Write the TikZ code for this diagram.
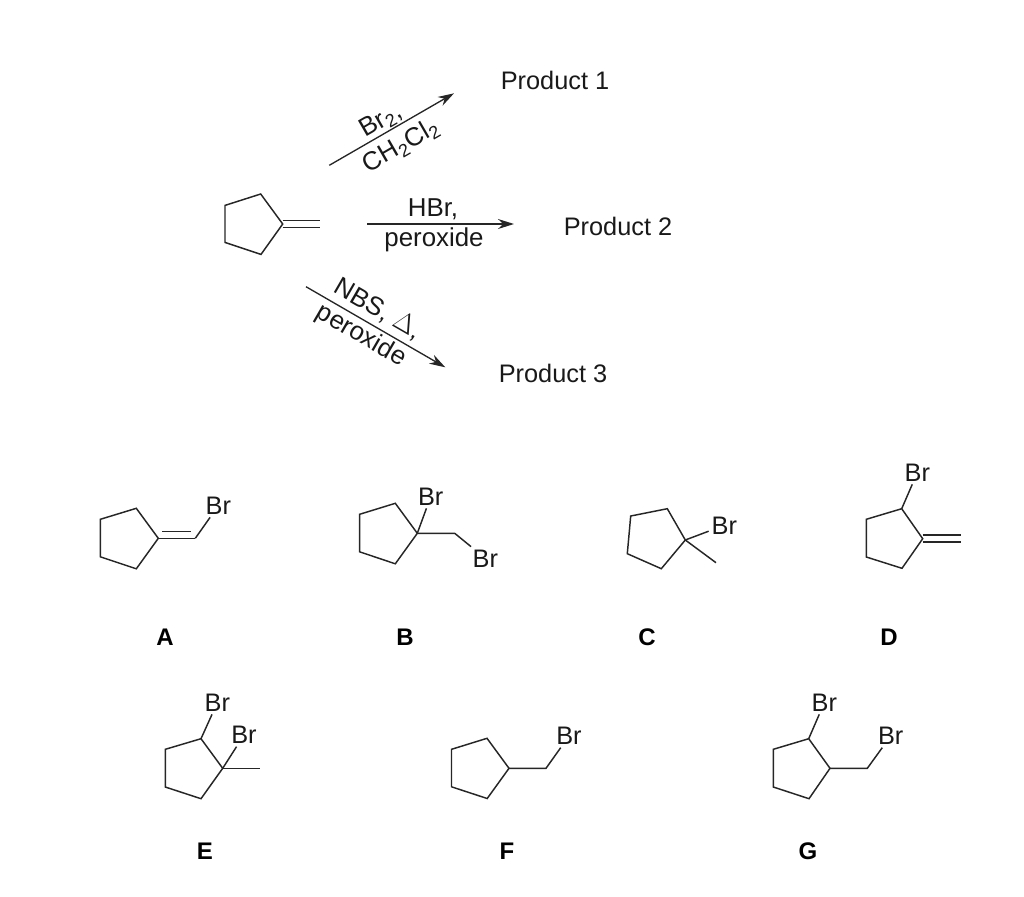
\documentclass[tikz,border=0pt]{standalone}
\usepackage{fontspec}
\setmainfont{Liberation Sans}
\usetikzlibrary{positioning,calc,arrows.meta}
\tikzset{
  bond/.style={line width=1.1pt,draw=black!85},
  rxn/.style={line width=1pt,draw=black!85,-{Stealth[length=12pt,width=7.5pt]}},
  atom/.style={inner sep=2pt,font=\fontsize{19}{20}\selectfont,text=black!90},
  cond/.style={inner sep=0pt,font=\fontsize{19.4}{20}\selectfont,text=black!90},
  prod/.style={inner sep=0pt,font=\fontsize{19}{22}\selectfont,text=black!90},
  tag/.style={inner sep=0pt,font=\fontsize{18}{20}\selectfont\bfseries}
}
\begin{document}
\begin{tikzpicture}[x=0.75pt,y=-0.75pt]
    \useasboundingbox (0,0) rectangle (1024,896);
    % starting material
    \coordinate (S) at (282.7,224);
    \draw[bond] (S) -- ++(-22,-30) -- ++(-35.7,11.4) -- ++(0,37) -- ++(36,12) -- cycle;
    \draw[bond] ($(S)+(0,-3.5)$) -- ++(37,0);
    \draw[bond] ($(S)+(0,3.5)$) -- ++(37,0);
    % reactions
    \coordinate (R1a) at (329.3,165.3);
    \coordinate (R1b) at (454,93.3);
    \coordinate (R2a) at (367,224);
    \coordinate (R2b) at (514,224);
    \coordinate (R3a) at (306,286.7);
    \coordinate (R3b) at (445.3,367.3);
    \draw[rxn] (R1a) -- (R1b);
    \draw[rxn] (R2a) -- (R2b);
    \draw[rxn] (R3a) -- (R3b);
    \node[cond,rotate=30] at (381,121) (C1) {Br\textsubscript{2},};
    \node[cond,rotate=30] at (401,146) (C2) {CH\textsubscript{2}Cl\textsubscript{2}};
    \node[cond] at (433,209) (C3) {HBr,};
    \node[cond] at (434,240) (C4) {peroxide};
    \node[cond,rotate=-30] at (378,309) (C5) {NBS, $\Delta$,};
    \node[cond,rotate=-30] at (361,336) (C6) {peroxide};
    \node[prod] at (555,80) (P1) {Product 1};
    \node[prod] at (618,226) (P2) {Product 2};
    \node[prod] at (553,373) (P3) {Product 3};
    % A
    \coordinate (A) at (158.3,538.3);
    \coordinate (A1) at (195.3,538.3);
    \node[atom] at (218.3,505.7) (BrA) {Br};
    \draw[bond] (A) -- ++(-22,-30) -- ++(-36,11) -- ++(0,37.5) -- ++(36,12) -- cycle;
    \draw[bond] (A) -- (A1);
    \draw[bond] (162,531.3) -- (191.3,531.3);
    \draw[bond] (A1) -- (BrA);
    \node[tag] at (165,637) (LA) {A};
    % B
    \coordinate (B) at (417.3,533.3);
    \coordinate (B1) at (454.7,533.3);
    \node[atom] at (430.7,496.7) (BrB) {Br};
    \node[atom] at (485.3,558.3) (BrBb) {Br};
    \draw[bond] (B) -- ++(-22,-30) -- ++(-35.7,11) -- ++(0,37.5) -- ++(35.7,12) -- cycle;
    \draw[bond] (B) -- (BrB);
    \draw[bond] (B) -- (B1) -- (BrBb);
    \node[tag] at (405,637) (LB) {B};
    % C
    \coordinate (C) at (685.3,540);
    \coordinate (C1) at (716,562.7);
    \node[atom] at (724.3,525.3) (BrC) {Br};
    \draw[bond] (C) -- (667.3,508.7) -- (630.7,516) -- (627.3,553.7) -- (661.3,568.7) -- cycle;
    \draw[bond] (C) -- (BrC);
    \draw[bond] (C) -- (C1);
    \node[tag] at (647,637) (LC) {C};
    % D
    \coordinate (D) at (922.7,538.7);
    \coordinate (D1) at (901.7,508.7);
    \node[atom] at (917.3,472.7) (BrD) {Br};
    \draw[bond] (D) -- (D1) -- ++(-35.4,10.6) -- ++(0,37.7) -- ++(35.7,11.3) -- cycle;
    \draw[bond] (D1) -- (BrD);
    \draw[bond] ($(D)+(0,-3.5)$) -- ++(38,0);
    \draw[bond] ($(D)+(0,3.5)$) -- ++(38,0);
    \node[tag] at (889,637) (LD) {D};
    % E
    \coordinate (E) at (222.7,768.3);
    \coordinate (E1) at (201,738.7);
    \coordinate (E2) at (260,768.3);
    \node[atom] at (217.3,702.7) (BrE) {Br};
    \node[atom] at (244,735) (BrEb) {Br};
    \draw[bond] (E) -- (E1) -- ++(-35.7,10.6) -- ++(0,37.7) -- ++(35.7,11.7) -- cycle;
    \draw[bond] (E1) -- (BrE);
    \draw[bond] (E) -- (BrEb);
    \draw[bond] (E) -- (E2);
    \node[tag] at (205,851) (LE) {E};
    % F
    \coordinate (F) at (509,768.3);
    \coordinate (F1) at (546,768.3);
    \node[atom] at (569,736) (BrF) {Br};
    \draw[bond] (F) -- ++(-22,-30) -- ++(-35.5,11) -- ++(0,37.5) -- ++(35.7,11.7) -- cycle;
    \draw[bond] (F) -- (F1) -- (BrF);
    \node[tag] at (507,851) (LF) {F};
    % G
    \coordinate (G) at (830,768.3);
    \coordinate (G1) at (808.7,738.7);
    \coordinate (G2) at (867.3,768.3);
    \node[atom] at (824.3,702.7) (BrG) {Br};
    \node[atom] at (890.7,736) (BrGb) {Br};
    \draw[bond] (G) -- (G1) -- ++(-35.4,10.6) -- ++(0,37.7) -- ++(35.7,11.7) -- cycle;
    \draw[bond] (G1) -- (BrG);
    \draw[bond] (G) -- (G2) -- (BrGb);
    \node[tag] at (808,851) (LG) {G};
\end{tikzpicture}
\end{document}
